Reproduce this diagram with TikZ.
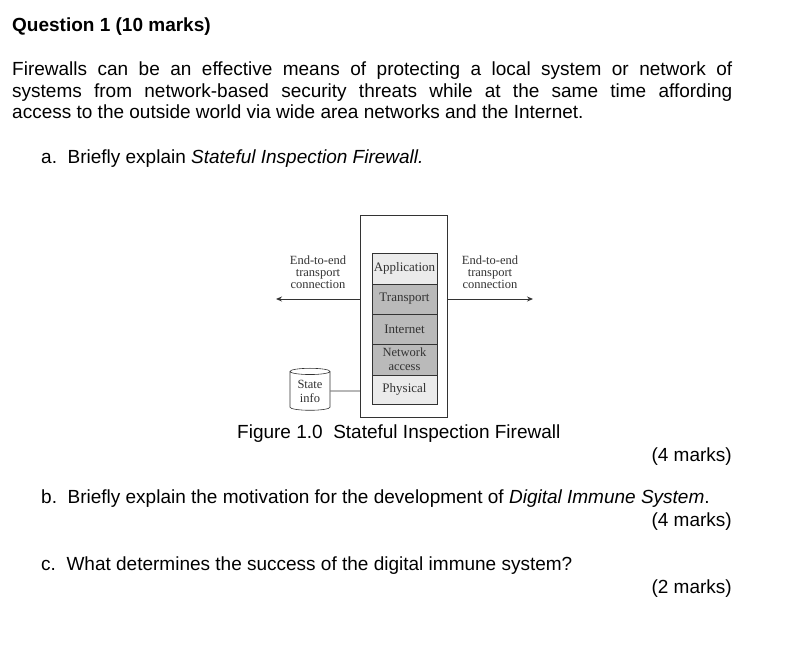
\documentclass[tikz,border=0pt]{standalone}
\usepackage{fontspec}
\setmainfont{Liberation Sans}
\newfontfamily\fig{Liberation Serif}
\usetikzlibrary{shapes.geometric,arrows.meta}
\begin{document}
\begin{tikzpicture}[x=1pt,y=-1pt,
  txt/.style={anchor=base west,inner sep=0,font=\fontsize{19}{22}\selectfont},
  lay/.style={draw=black!80,line width=0.6pt,minimum width=65pt,inner sep=0,font=\fig\fontsize{13}{12}\selectfont,text=black!80,align=center},
  lbl/.style={font=\fig\fontsize{12.5}{13}\selectfont,text=black!80,align=center,inner sep=0},
  arr/.style={-{Stealth[length=6pt,width=5pt]},line width=0.9pt,draw=black!80}]
\useasboundingbox (0,0) rectangle (788,657);
\node[txt,font=\bfseries\fontsize{19}{22}\selectfont] (q) at (12,31) {Question 1 (10 marks)};
\node[txt] (p1) at (12,75) {\makebox[720pt][s]{Firewalls can be an effective means of protecting a local system or network of}};
\node[txt] (p2) at (12,97) {\makebox[720pt][s]{systems from network-based security threats while at the same time affording}};
\node[txt] (p3) at (12,118) {access to the outside world via wide area networks and the Internet.};
\node[txt] (a) at (41,163) {a.\ \ Briefly explain \textit{Stateful Inspection Firewall.}};
% figure
\draw[draw=black!80,line width=0.8pt] (360,215) rectangle (447,417);
\coordinate (bl) at (360,299); \coordinate (br) at (447,299);
\coordinate (el) at (276,299); \coordinate (er) at (533,299);
\node[lay,fill=black!8,minimum height=31pt] (app) at (404.5,268.5) {Application};
\node[lay,fill=black!27,minimum height=30pt] (tr) at (404.5,299) {Transport};
\node[lay,fill=black!27,minimum height=30pt] (in) at (404.5,329) {Internet};
\node[lay,fill=black!27,minimum height=31pt,font=\fig\fontsize{12.5}{14}\selectfont] (na) at (404.5,359.5) {Network\\access};
\node[lay,fill=black!8,minimum height=29pt] (ph) at (404.5,389.5) {Physical};
\draw[arr] (bl) -- (el);
\draw[arr] (br) -- (er);
\node[lbl] (ll) at (318,272) {End-to-end\\[-1pt]transport\\[-1pt]connection};
\node[lbl] (lr) at (490,272) {End-to-end\\[-1pt]transport\\[-1pt]connection};
\node[cylinder,shape border rotate=90,draw=black!80,line width=0.6pt,aspect=0.25,minimum width=40pt,minimum height=42pt,inner sep=0,lbl,font=\fig\fontsize{12.5}{14}\selectfont] (st) at (310,391) {State\\info};
\coordinate (sb) at (360,391);
\draw[draw=black!80,line width=0.8pt] (st.east) -- (sb);
\node[txt] (cap) at (237,438) {Figure 1.0\ \ Stateful Inspection Firewall};
\node[txt,anchor=base east] (m1) at (732,461) {(4 marks)};
\node[txt] (b) at (41,503) {b.\ \ Briefly explain the motivation for the development of \textit{Digital Immune System}.};
\node[txt,anchor=base east] (m2) at (732,526) {(4 marks)};
\node[txt] (c) at (41,570) {c.\ \ What determines the success of the digital immune system?};
\node[txt,anchor=base east] (m3) at (732,593) {(2 marks)};
\end{tikzpicture}
\end{document}
